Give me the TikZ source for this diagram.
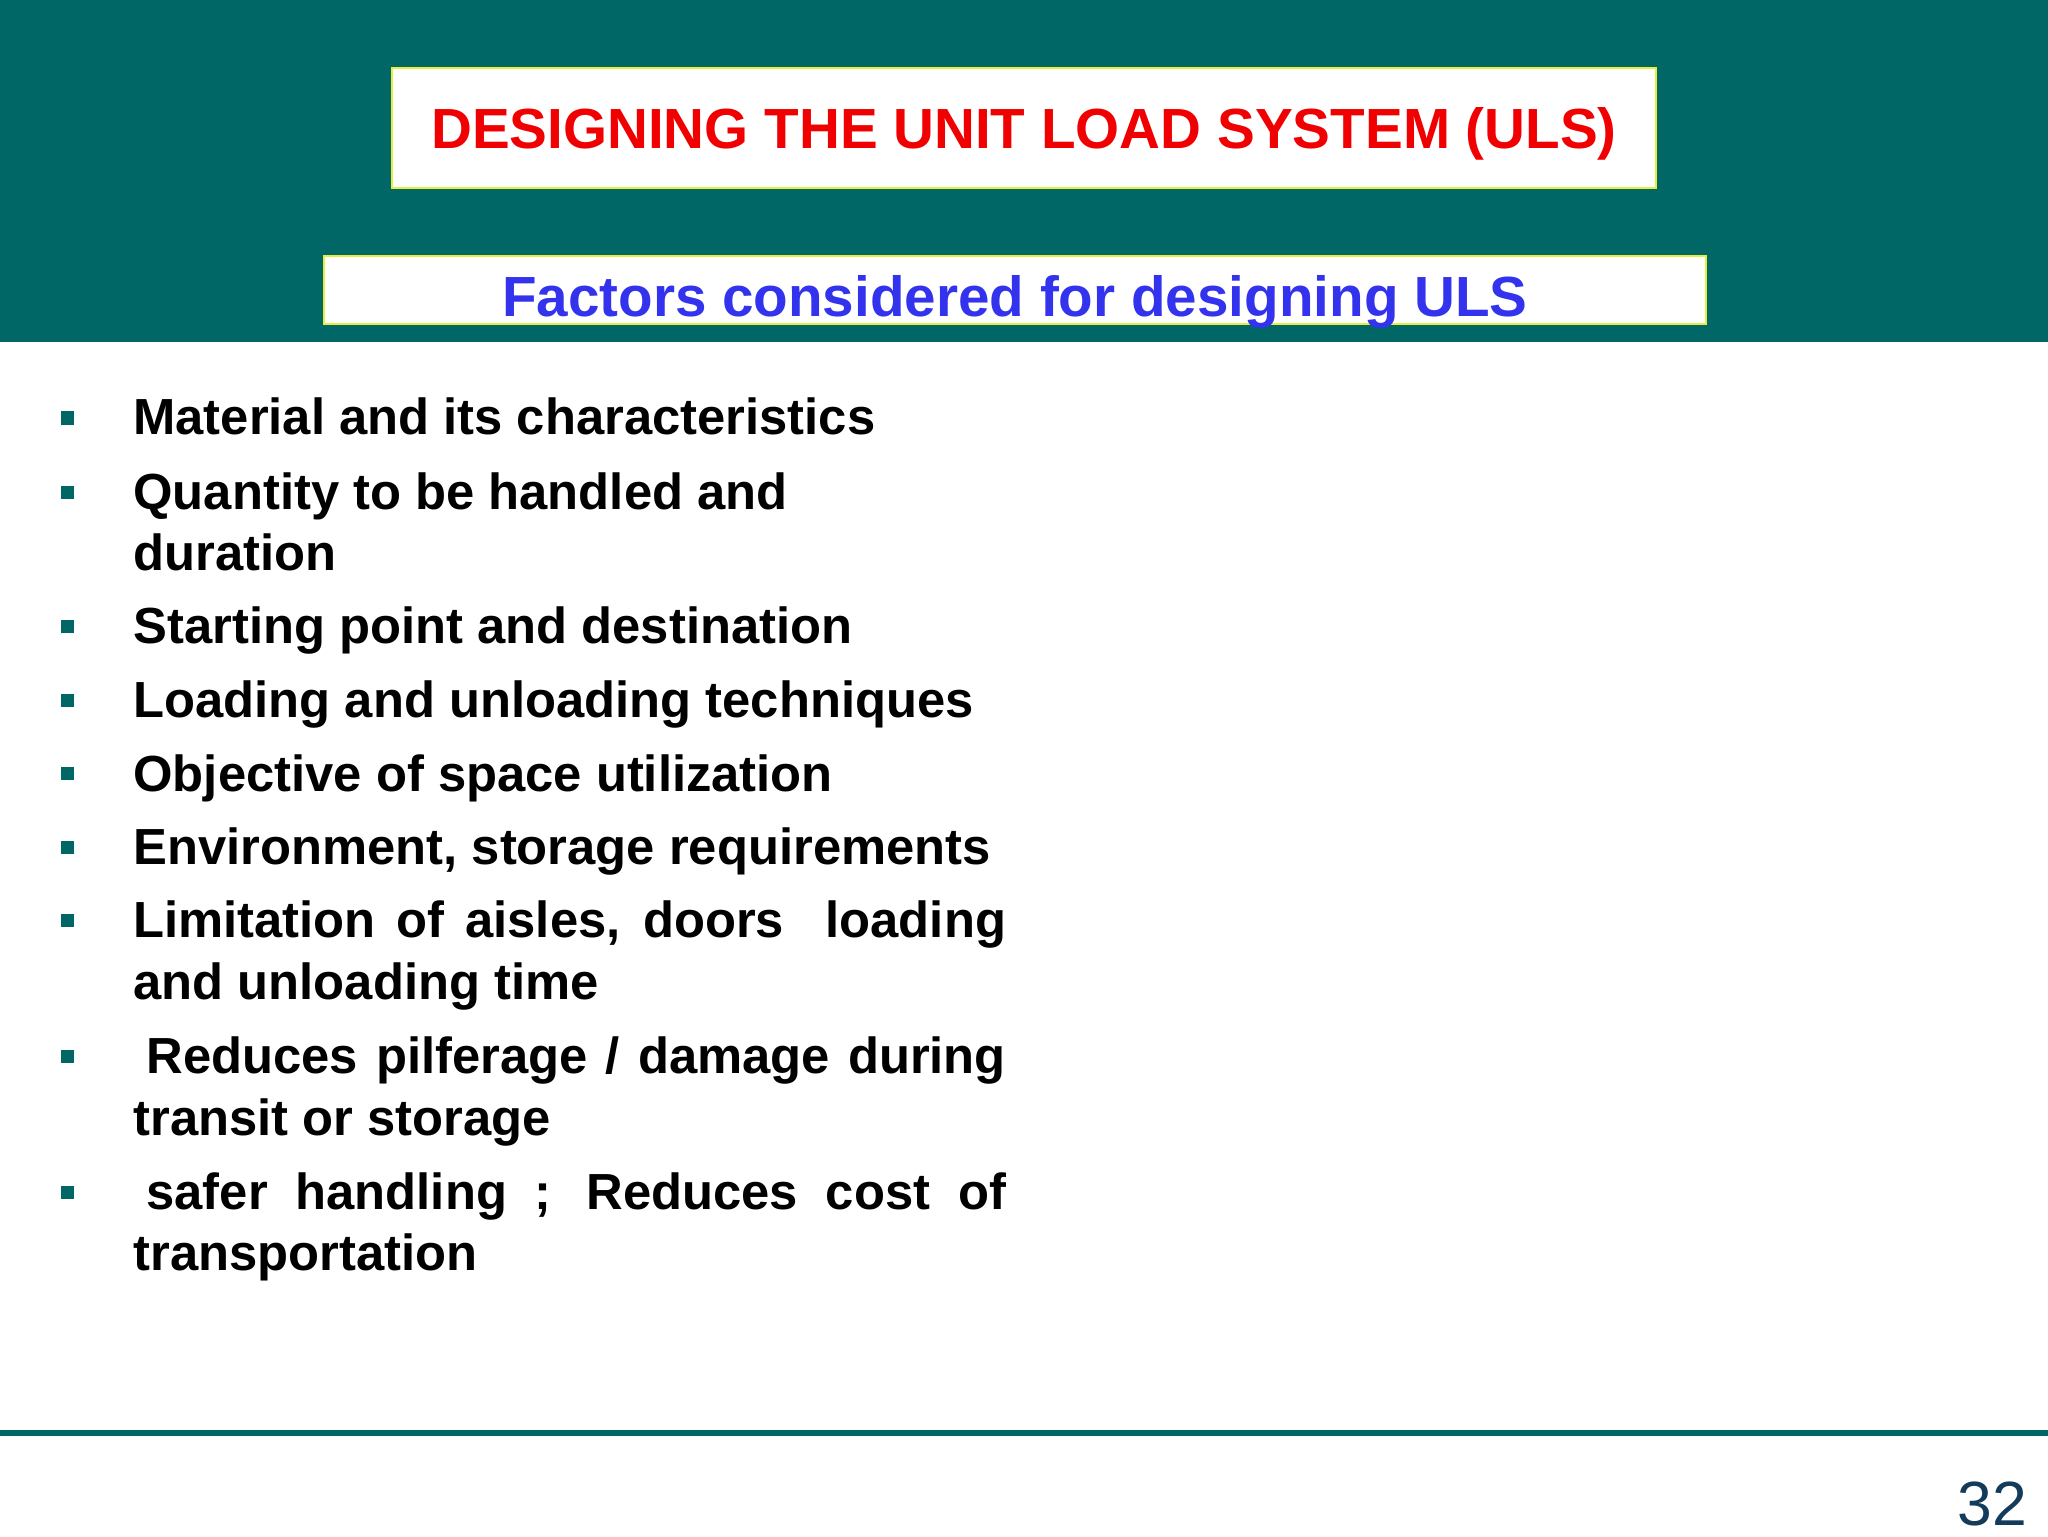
\documentclass[tikz,border=0pt]{standalone}
\usepackage{fontspec}
\setmainfont{Liberation Sans}
\definecolor{teal1}{RGB}{0,102,102}
\definecolor{ttlred}{RGB}{240,0,0}
\definecolor{subblue}{RGB}{51,51,238}
\definecolor{boxyel}{RGB}{230,240,60}
\definecolor{pgnum}{RGB}{20,60,90}
\begin{document}
\begin{tikzpicture}[x=1bp,y=-1bp,
  itm/.style={anchor=base west,inner sep=0,font=\fontsize{39}{46}\selectfont\bfseries},
  bul/.style={fill=teal1,minimum size=10bp,inner sep=0}]
\useasboundingbox (0,0) rectangle (1568,1176);
\fill[white] (0,0) rectangle (1568,1176);
\fill[teal1] (0,0) rectangle (1568,262);
\node[draw=boxyel,line width=1.5bp,fill=white,minimum width=968bp,minimum height=92bp,inner sep=0] (title) at (784,98) {};
\node[anchor=base,inner sep=0,font=\fontsize{43.5}{50}\selectfont\bfseries,text=ttlred] (ttl) at (784,114) {DESIGNING THE UNIT LOAD SYSTEM (ULS)};
\node[draw=boxyel,line width=1.5bp,fill=white,minimum width=1058bp,minimum height=52bp,inner sep=0] (subbox) at (777,222) {};
\node[anchor=base,inner sep=0,font=\fontsize{43.5}{50}\selectfont\bfseries,text=subblue] (sub) at (777,242) {Factors considered for designing ULS};
\def\W{668bp}
\foreach \y/\n in {320/b1,377/b2,480/b3,536/b4,592/b5,649/b6,705/b7,809/b8,913/b9}{
  \node[bul] (\n) at (52,\y) {};}
\node[itm] (t1) at (102,333) {Material and its characteristics};
\node[itm] (t2) at (102,390) {Quantity to be handled and};
\node[itm] (t2b) at (102,437) {duration};
\node[itm] (t3) at (102,493) {Starting point and destination};
\node[itm] (t4) at (102,549) {Loading and unloading techniques};
\node[itm] (t5) at (102,606) {Objective of space utilization};
\node[itm] (t6) at (102,662) {Environment, storage requirements};
\node[itm] (t7) at (102,718) {\makebox[\W][s]{Limitation of aisles, doors \ loading}};
\node[itm] (t7b) at (102,765) {and unloading time};
\node[itm] (t8) at (102,822) {\makebox[\W][s]{\hspace*{10bp}Reduces pilferage / damage during}};
\node[itm] (t8b) at (102,869) {transit or storage};
\node[itm] (t9) at (102,926) {\makebox[\W][s]{\hspace*{10bp}safer handling ; Reduces cost of}};
\node[itm] (t9b) at (102,973) {transportation};
\fill[teal1] (0,1094.5) rectangle (1568,1099.5);
\node[anchor=base east,inner sep=0,font=\fontsize{48}{56}\selectfont,text=pgnum] (pg) at (1552,1168) {32};
\end{tikzpicture}
\end{document}
